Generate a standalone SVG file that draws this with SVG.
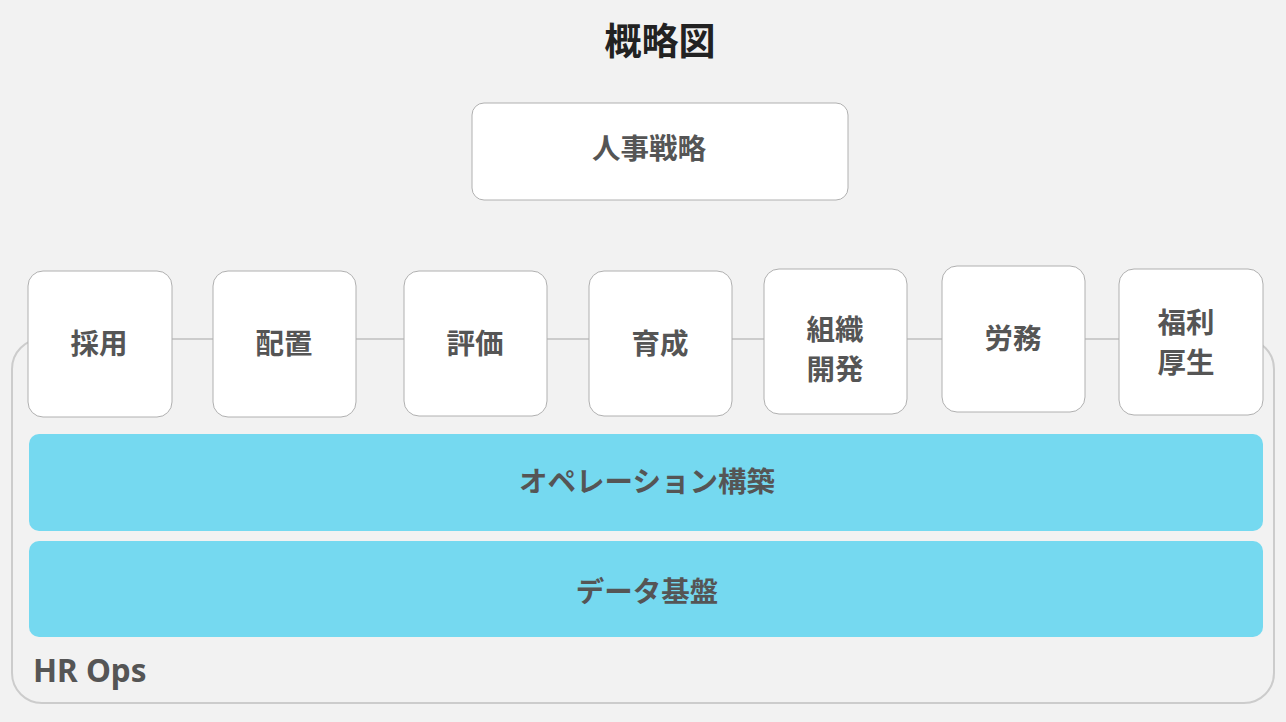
<svg xmlns="http://www.w3.org/2000/svg" width="1286" height="722" viewBox="0 0 1286 722">
<style>
.node{fill:#ffffff;stroke:#b0b0b0;stroke-width:1}
.bar{fill:#75d9f0}
.lbl{font-family:"Noto Sans CJK JP","Noto Sans",sans-serif;font-weight:700;font-size:28.5px;fill:#555555;text-anchor:middle;dominant-baseline:central}
.title{font-family:"Noto Sans CJK JP","Noto Sans",sans-serif;font-weight:700;font-size:37px;fill:#222222;text-anchor:middle;dominant-baseline:central}
.grp{font-family:"Noto Sans","Open Sans",sans-serif;font-weight:700;font-size:31.5px;fill:#555555}
</style>
<rect width="1286" height="722" fill="#f2f2f2"/>
<text class="title" x="660" y="39">概略図</text>
<g id="container-hrops">
<rect x="12" y="339" width="1262" height="364" rx="30" fill="none" stroke="#cccccc" stroke-width="2"/>
<text class="grp" x="33" y="682">HR Ops</text>
</g>
<g id="strategy">
<rect class="node" x="472" y="103" width="376" height="97" rx="12"/>
<text class="lbl" x="649" y="146">人事戦略</text>
</g>
<g id="saiyo">
<rect class="node" x="28" y="271" width="144" height="146" rx="15"/>
<text class="lbl" x="99" y="341">採用</text>
</g>
<g id="haichi">
<rect class="node" x="213" y="271" width="143" height="146" rx="15"/>
<text class="lbl" x="284" y="341">配置</text>
</g>
<g id="hyoka">
<rect class="node" x="404" y="271" width="143" height="145" rx="15"/>
<text class="lbl" x="475" y="341">評価</text>
</g>
<g id="ikusei">
<rect class="node" x="589" y="271" width="143" height="145" rx="15"/>
<text class="lbl" x="660" y="341">育成</text>
</g>
<g id="soshiki">
<rect class="node" x="764" y="269" width="143" height="145" rx="15"/>
<text class="lbl" x="835" y="327">組織</text>
<text class="lbl" x="835" y="367">開発</text>
</g>
<g id="romu">
<rect class="node" x="942" y="266" width="143" height="146" rx="15"/>
<text class="lbl" x="1013" y="336">労務</text>
</g>
<g id="fukuri">
<rect class="node" x="1119" y="269" width="144" height="146" rx="15"/>
<text class="lbl" x="1186" y="320">福利</text>
<text class="lbl" x="1186" y="360">厚生</text>
</g>
<g id="operation">
<rect class="bar" x="29" y="434" width="1234" height="97" rx="10"/>
<text class="lbl" x="647" y="479">オペレーション構築</text>
</g>
<g id="data">
<rect class="bar" x="29" y="541" width="1234" height="96" rx="10"/>
<text class="lbl" x="647" y="589">データ基盤</text>
</g>
<g id="connectors"></g>
</svg>
